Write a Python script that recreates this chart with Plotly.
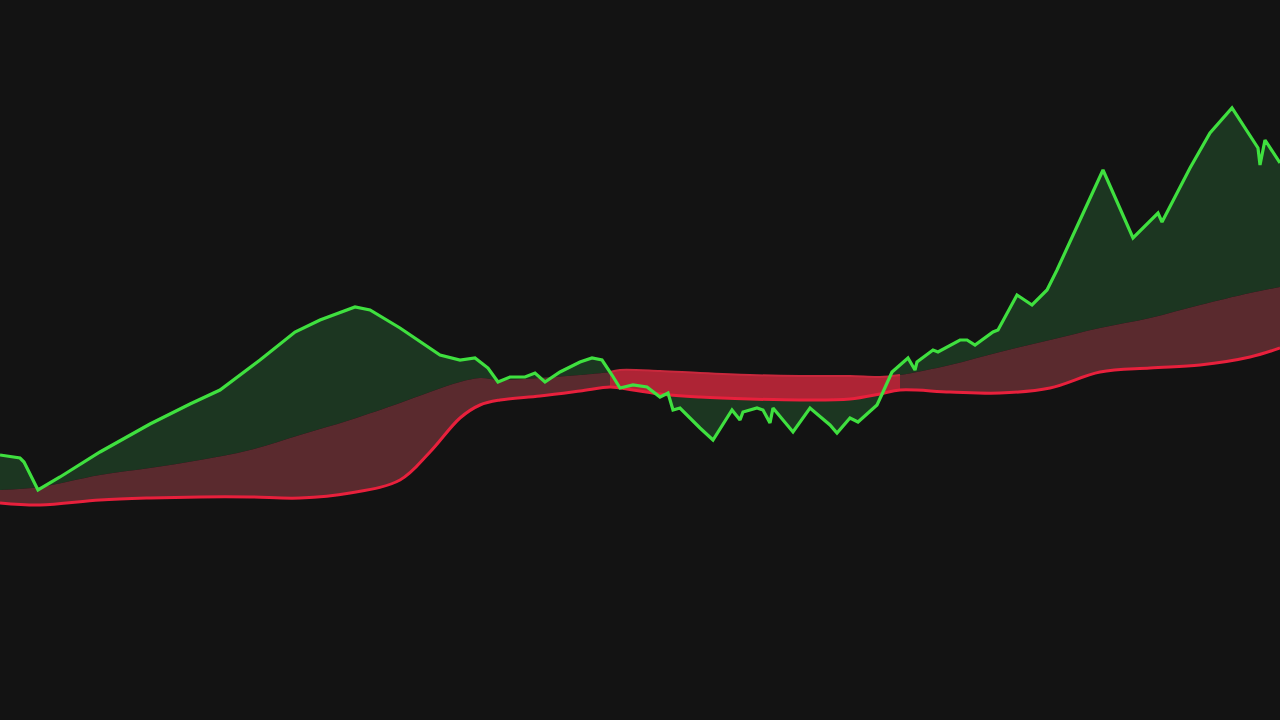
import plotly.graph_objects as go

# Price series (green line)
price_day = [0, 2, 2.4, 3.8, 6, 10, 15, 19, 22, 26, 29.5, 32, 35.5, 37, 40, 44, 46, 47.5, 48.8, 49.8,
             51, 52.5, 53.5, 54.5, 56, 58, 59.2, 60.2, 61.2, 62, 63.3, 64.7, 66, 66.8, 67.3, 68, 70, 71.3,
             73.2, 74, 74.3, 75.7, 76.3, 77, 77.3, 79.3, 81, 83, 83.7, 85, 85.8, 87.7, 88.3, 89.2, 90.8,
             91.5, 91.7, 93.3, 93.8, 96, 96.7, 97.5, 99.3, 99.8, 101.7, 103.2, 104.7, 105.7, 108, 110.3,
             113.3, 115.8, 116.2, 119, 121, 123.2, 125.8, 126, 126.5, 128]
price_val = [26.5, 26.2, 25.8, 23.0, 24.3, 26.8, 29.6, 31.6, 33.0, 36.0, 38.8, 40.0, 41.3, 41.0, 39.2,
             36.5, 36.0, 36.2, 35.2, 33.8, 34.3, 34.3, 34.7, 33.8, 34.8, 35.8, 36.2, 36.0, 34.5, 33.2,
             33.5, 33.3, 32.3, 32.7, 31.0, 31.2, 29.2, 28.0, 31.0, 30.0, 30.8, 31.2, 31.0, 29.7, 31.2,
             28.8, 31.2, 29.5, 28.7, 30.2, 29.8, 31.5, 32.8, 34.8, 36.2, 35.0, 35.8, 37.0, 36.8, 38.0,
             38.0, 37.5, 38.8, 39.0, 42.5, 41.5, 43.0, 45.0, 50.0, 55.0, 48.2, 50.7, 49.8, 55.2, 58.7,
             61.2, 57.2, 55.5, 58.0, 55.7]

# Moving averages
ma_day = [0, 4, 10, 15, 20, 25, 30, 35, 40, 43, 46, 48, 50, 54, 58, 61, 62, 66, 70, 75, 80, 85, 88,
          90, 95, 100, 105, 110, 115, 120, 125, 128]
fast_ma = [23.0, 23.3, 24.5, 25.2, 26.0, 27.0, 28.5, 30.0, 31.7, 32.8, 33.8, 34.2, 34.0, 34.2, 34.5,
           34.8, 35.0, 34.9, 34.7, 34.5, 34.4, 34.4, 34.3, 34.5, 35.5, 36.8, 38.0, 39.2, 40.2, 41.5,
           42.7, 43.3]
slow_ma = [21.7, 21.5, 22.0, 22.2, 22.3, 22.3, 22.2, 22.7, 24.0, 26.8, 30.2, 31.5, 32.0, 32.4, 32.9,
           33.3, 33.2, 32.6, 32.3, 32.1, 32.0, 32.1, 32.6, 33.0, 32.8, 32.7, 33.2, 34.8, 35.2, 35.5,
           36.3, 37.2]

# Bearish stretch where the band is highlighted
bear_start, bear_end = 61, 90

BG = "#131313"
GREEN = "#3fe03f"
GREEN_FILL = "#1c3621"
RED = "#e8203c"
RED_FILL = "#5a2a2e"
RED_BRIGHT = "#ae2435"

bi = [i for i, d in enumerate(ma_day) if bear_start <= d <= bear_end]
bd = [ma_day[i] for i in bi]
bf = [fast_ma[i] for i in bi]
bs = [slow_ma[i] for i in bi]

fig = go.Figure()
common = dict(mode="lines", hoverinfo="skip", showlegend=False)
fig.add_trace(go.Scatter(x=ma_day, y=fast_ma, line=dict(width=0, shape="spline"), **common))
fig.add_trace(go.Scatter(x=price_day, y=price_val, fill="tonexty", fillcolor=GREEN_FILL,
                         line=dict(width=0), **common))
fig.add_trace(go.Scatter(x=ma_day, y=slow_ma, line=dict(width=0, shape="spline"), **common))
fig.add_trace(go.Scatter(x=ma_day, y=fast_ma, fill="tonexty", fillcolor=RED_FILL,
                         line=dict(width=0, shape="spline"), **common))
fig.add_trace(go.Scatter(x=bd, y=bs, line=dict(width=0, shape="spline"), **common))
fig.add_trace(go.Scatter(x=bd, y=bf, fill="tonexty", fillcolor=RED_BRIGHT,
                         line=dict(width=2, color="#c8283c", shape="spline"), **common))
fig.add_trace(go.Scatter(x=ma_day, y=slow_ma, line=dict(width=3, color=RED, shape="spline"), **common))
fig.add_trace(go.Scatter(x=price_day, y=price_val, line=dict(width=3.2, color=GREEN), **common))

fig.update_layout(
    width=1280, height=720,
    margin=dict(l=0, r=0, t=0, b=0),
    paper_bgcolor=BG, plot_bgcolor=BG,
    xaxis=dict(range=[0, 128], visible=False, showgrid=False, zeroline=False),
    yaxis=dict(range=[0, 72], visible=False, showgrid=False, zeroline=False),
)
fig.write_html(
    "out.html",
    config={"displayModeBar": False},
    post_script="document.body.style.margin='0';document.body.style.background='#131313';"
                "document.body.style.overflow='hidden';",
)
